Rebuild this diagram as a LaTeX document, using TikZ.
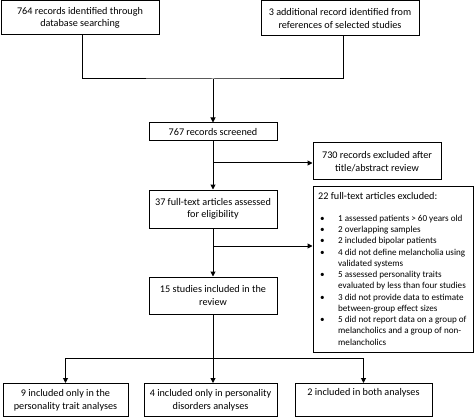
\documentclass[tikz,border=0pt]{standalone}
\usepackage{fontspec}
\setmainfont{Carlito}
\usetikzlibrary{arrows.meta}
\tikzset{
  box/.style={draw=black, line width=1pt, inner sep=0pt, align=center, font=\fontsize{10.2}{12.6}\selectfont},
  txt/.style={inner sep=0pt},
  conn/.style={line width=1pt},
  arr/.style={line width=1pt, -{Triangle[length=5pt,width=5pt]}},
}
\newcommand{\bitem}[1]{\makebox[20pt][l]{\hspace{2pt}\textbullet}#1}
\newcommand{\bcont}[1]{\hspace*{20pt}#1}
\begin{document}
\begin{tikzpicture}[x=1pt,y=-1pt]
\useasboundingbox (0,0) rectangle (474,417);
% boxes
\node[box, minimum width=158, minimum height=34] (A) at (80,18) {764 records identified through\\database searching};
\node[box, minimum width=158, minimum height=35] (B) at (340,18.5) {3 additional record identified from\\references of selected studies};
\node[box, minimum width=128, minimum height=18] (C) at (213,132) {767 records screened};
\node[box, minimum width=128, minimum height=37] (D) at (377,161.5) {730 records excluded after\\title/abstract review};
\node[box, minimum width=128, minimum height=38] (E) at (213,209) {37 full-text articles assessed\\for eligibility};
\node[box, minimum width=160, minimum height=166] (F) at (393,269.5) {};
\node[txt, anchor=north west] (Ftext) at (318,192.5) {\parbox[t]{154pt}{\setlength{\parskip}{0pt}\setlength{\parindent}{0pt}\raggedright
\fontsize{10.2}{12.6}\selectfont 22 full-text articles excluded:\par
\vspace{10.2pt}
\fontsize{9.1}{11.27}\selectfont
\bitem{1 assessed patients > 60 years old}\\
\bitem{2 overlapping samples}\\
\bitem{2 included bipolar patients}\\
\bitem{4 did not define melancholia using}\\
\bcont{validated systems}\\
\bitem{5 assessed personality traits}\\
\bcont{evaluated by less than four studies}\\
\bitem{3 did not provide data to estimate}\\
\bcont{between-group effect sizes}\\
\bitem{5 did not report data on a group of}\\
\bcont{melancholics and a group of non-}\\
\bcont{melancholics}\par}};
\node[box, minimum width=128, minimum height=37] (G) at (213,295.5) {15 studies included in the\\review};
\node[box, minimum width=125, minimum height=33] (H1) at (65.5,400) {9 included only in the\\personality trait analyses};
\node[box, minimum width=133, minimum height=33] (H2) at (210.5,400) {4 included only in personality\\disorders analyses};
\node[box, minimum width=137, minimum height=33] (H3) at (363.5,400) {2 included in both analyses\\\strut};
% junctions
\coordinate (J1) at (213,79);
\coordinate (J2) at (213,163);
\coordinate (J3) at (213,246);
\coordinate (J4) at (213,358);
% connectors
\draw[conn] ([xshift=2pt]A.south) |- (J1) -| ([xshift=3pt]B.south);
\draw[arr] (J1) -- (C.north);
\draw[arr] (C.south) -- (E.north);
\draw[arr] (J2) -- (J2 -| D.west);
\draw[arr] (E.south) -- (G.north);
\draw[arr] (J3) -- (J3 -| F.west);
\draw[conn] (G.south) -- (J4);
\draw[conn] (J4 -| H1.north) -- (J4 -| H3.north);
\draw[arr] (J4 -| H1.north) -- (H1.north);
\draw[arr] (J4) -- (J4 |- H2.north);
\draw[arr] (J4 -| H3.north) -- (H3.north);
\end{tikzpicture}
\end{document}
